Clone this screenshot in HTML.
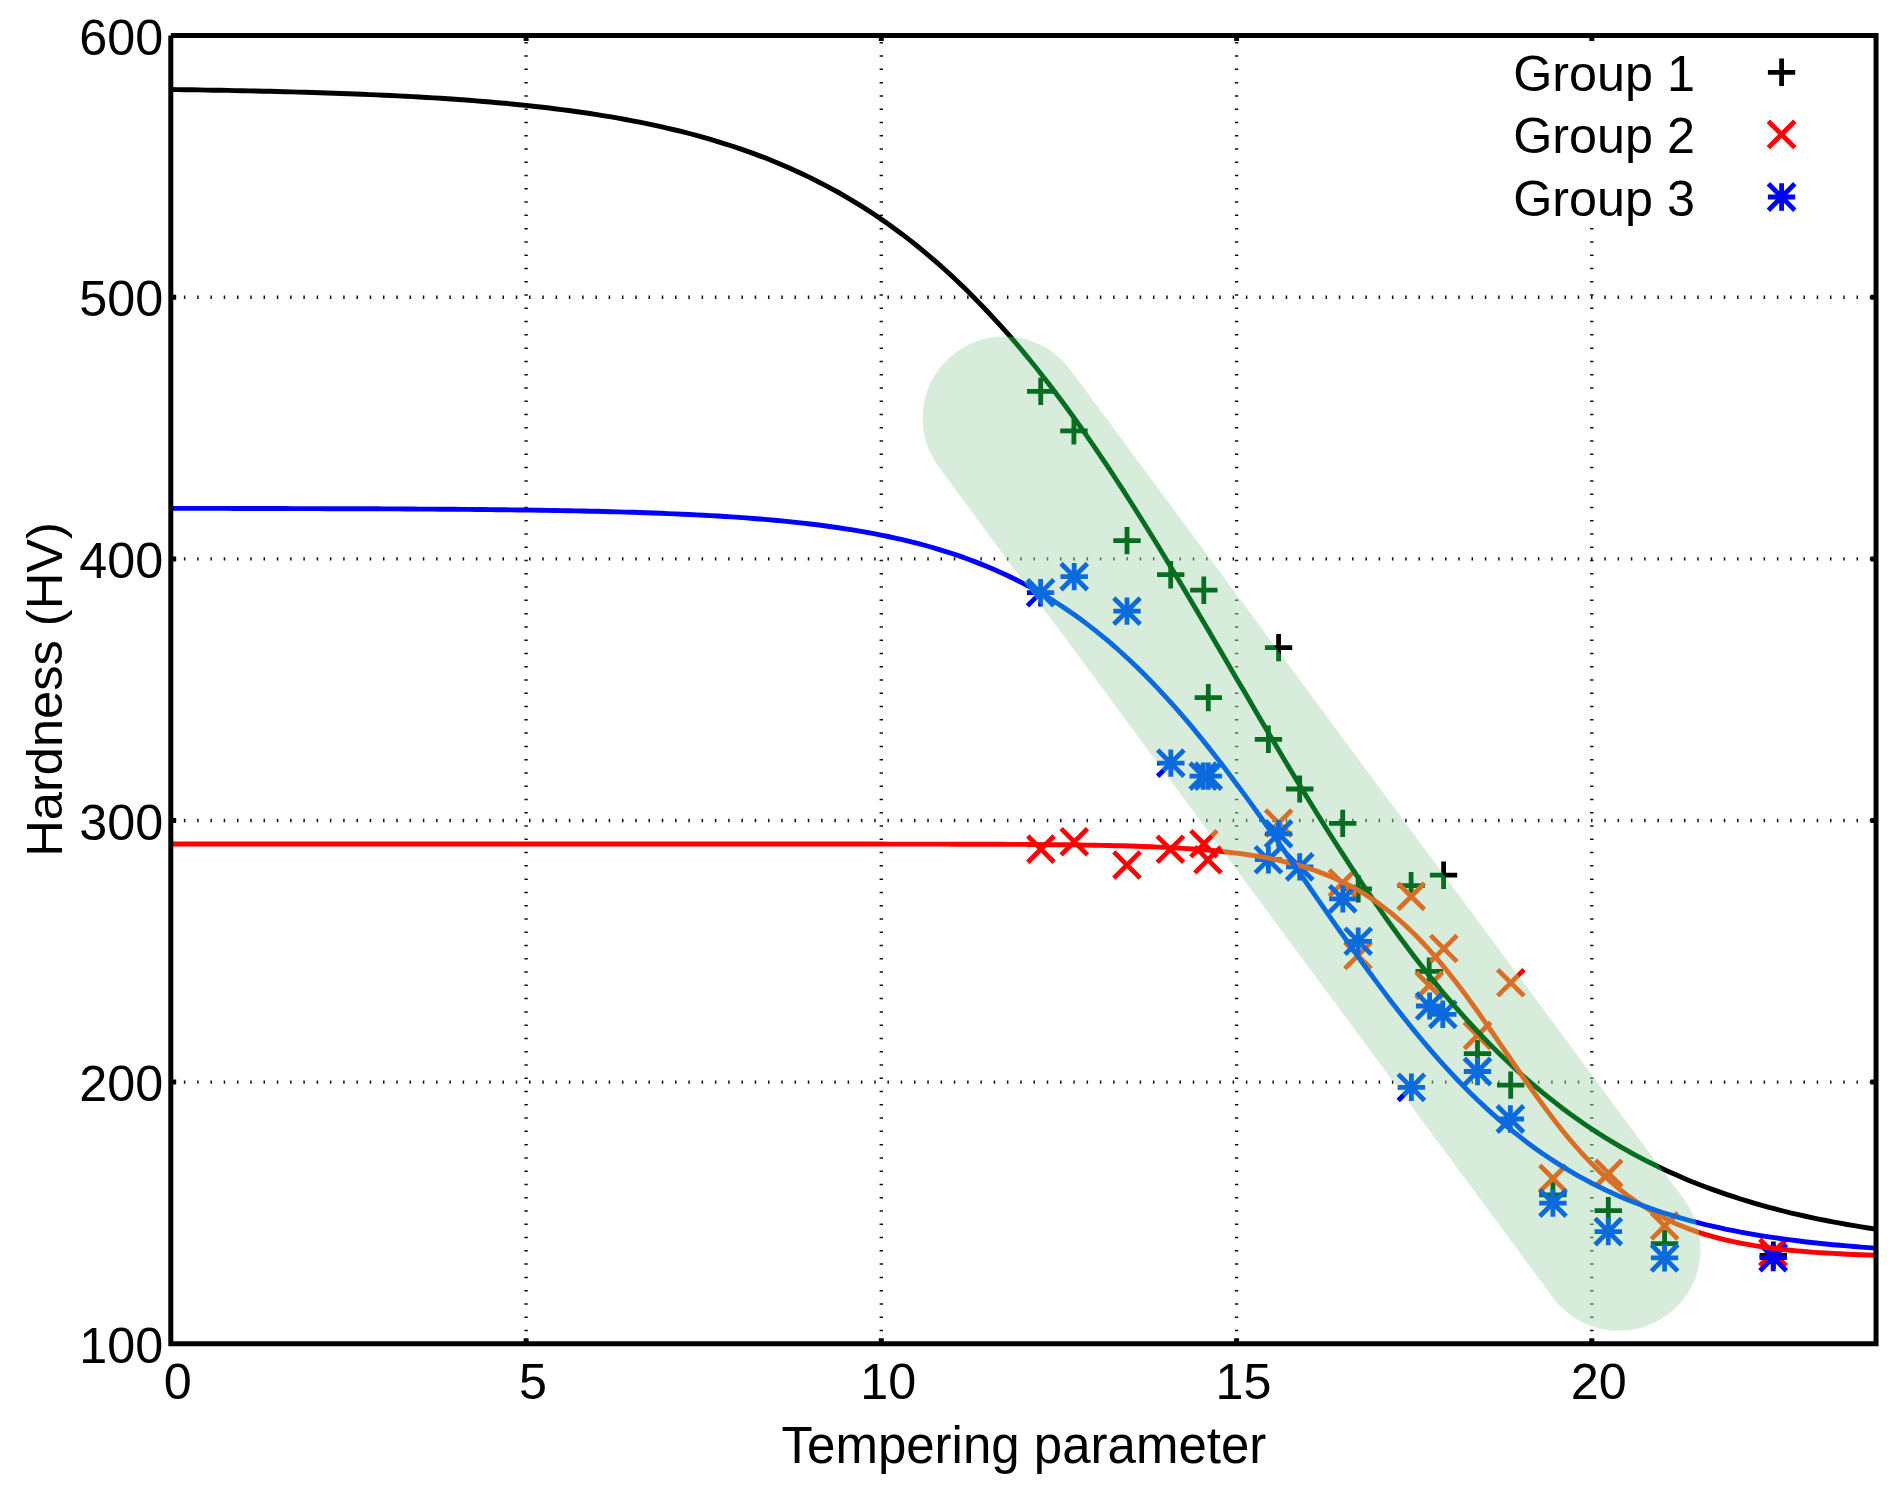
<!DOCTYPE html>
<html><head><meta charset="utf-8"><title>Hardness vs tempering parameter</title>
<style>html,body{margin:0;padding:0;background:#fff}svg{display:block}text{font-family:"Liberation Sans",Arial,Helvetica,sans-serif;font-size:51px;fill:#000}</style>
</head><body>
<svg width="1895" height="1489" viewBox="0 0 1895 1489">
<defs>
<clipPath id="plot"><rect x="170.8" y="35.6" width="1705.25" height="1308.15"/></clipPath>
<mask id="capm" maskUnits="userSpaceOnUse" x="0" y="0" width="1895" height="1489"><rect width="1895" height="1489" fill="#000"/><path d="M1004.4,418.2L1618.8,1249.0" stroke="#fff" stroke-width="163.6" stroke-linecap="round" fill="none"/></mask>
</defs>
<rect width="1895" height="1489" fill="#fff"/>
<g clip-path="url(#plot)">
<g stroke="#111" stroke-width="3.4" fill="none"><path d="M526.1,1343.75V35.6" stroke-dasharray="1.5 11.775" stroke-dashoffset="0.75"/><path d="M881.3,1343.75V35.6" stroke-dasharray="1.5 11.775" stroke-dashoffset="0.75"/><path d="M1236.6,1343.75V35.6" stroke-dasharray="1.5 11.775" stroke-dashoffset="0.75"/><path d="M1591.8,1343.75V35.6" stroke-dasharray="1.5 11.775" stroke-dashoffset="0.75"/><path d="M170.8,1082.1H1876.05" stroke-dasharray="1.5 11.775" stroke-dashoffset="0.2"/><path d="M170.8,820.5H1876.05" stroke-dasharray="1.5 11.775" stroke-dashoffset="0.2"/><path d="M170.8,558.9H1876.05" stroke-dasharray="1.5 11.775" stroke-dashoffset="0.2"/><path d="M170.8,297.2H1876.05" stroke-dasharray="1.5 11.775" stroke-dashoffset="0.2"/></g>
<g fill="none" stroke-width="4.9">
<path stroke="#000" stroke-width="4.8" d="M1027.0,391.3H1054.4M1040.7,377.7V404.9M1060.2,430.9H1087.6M1073.9,417.2V444.5M1113.3,540.6H1140.7M1127.0,527.0V554.2M1157.0,574.7H1184.4M1170.7,561.1V588.4M1190.1,590.2H1217.5M1203.8,576.6V603.9M1264.9,647.6H1292.2M1278.6,634.0V661.2M1194.6,697.6H1222.0M1208.3,684.0V711.2M1254.8,739.3H1282.1M1268.4,725.6V752.9M1286.0,789.0H1313.4M1299.7,775.4V802.6M1329.0,823.4H1356.4M1342.7,809.8V837.0M1344.5,888.8H1371.9M1358.2,875.1V902.4M1397.4,885.6H1424.8M1411.1,872.0V899.2M1429.9,875.2H1457.2M1443.6,861.6V888.9M1415.5,971.3H1442.9M1429.2,957.6V984.9M1463.8,1053.7H1491.2M1477.5,1040.0V1067.4M1497.0,1085.1H1524.4M1510.7,1071.4V1098.8M1539.2,1194.9H1566.6M1552.9,1181.2V1208.6M1594.6,1210.7H1622.0M1608.3,1197.0V1224.4M1650.9,1243.6H1678.2M1664.6,1229.9V1257.2M1759.6,1255.3H1787.0M1773.3,1241.6V1269.0"/>
<path stroke="#f00" stroke-width="4.8" d="M1027.8,836.0L1054.1,862.2M1027.8,862.2L1054.1,836.0M1061.1,828.6L1087.5,854.9M1061.1,854.9L1087.5,828.6M1113.8,851.9L1140.2,878.1M1113.8,878.1L1140.2,851.9M1157.2,836.1L1183.6,862.4M1157.2,862.4L1183.6,836.1M1190.8,830.6L1217.1,856.9M1190.8,856.9L1217.1,830.6M1194.8,846.6L1221.1,872.9M1194.8,872.9L1221.1,846.6M1265.4,809.9L1291.8,836.1M1265.4,836.1L1291.8,809.9M1329.2,869.9L1355.6,896.1M1329.2,896.1L1355.6,869.9M1344.8,942.4L1371.2,968.6M1344.8,968.6L1371.2,942.4M1398.0,883.2L1424.4,909.5M1398.0,909.5L1424.4,883.2M1430.6,935.4L1457.0,961.6M1430.6,961.6L1457.0,935.4M1416.1,972.2L1442.5,998.5M1416.1,998.5L1442.5,972.2M1497.6,969.6L1524.0,995.9M1497.6,995.9L1524.0,969.6M1464.3,1022.3L1490.7,1048.6M1464.3,1048.6L1490.7,1022.3M1539.8,1165.2L1566.1,1191.6M1539.8,1191.6L1566.1,1165.2M1595.5,1160.1L1621.9,1186.5M1595.5,1186.5L1621.9,1160.1M1651.4,1212.8L1677.8,1239.1M1651.4,1239.1L1677.8,1212.8M1759.8,1239.3L1786.2,1265.7M1759.8,1265.7L1786.2,1239.3"/>
<path stroke="#00f" stroke-width="4.8" d="M1026.9,592.7H1054.2M1040.6,579.1V606.4M1027.4,579.6L1053.8,605.9M1027.4,605.9L1053.8,579.6M1060.5,576.6H1087.9M1074.2,563.0V590.2M1061.0,563.5L1087.4,589.8M1061.0,589.8L1087.4,563.5M1113.3,611.1H1140.7M1127.0,597.5V624.8M1113.8,598.0L1140.2,624.2M1113.8,624.2L1140.2,598.0M1157.1,763.1H1184.5M1170.8,749.5V776.8M1157.6,750.0L1184.0,776.2M1157.6,776.2L1184.0,750.0M1189.5,776.1H1216.9M1203.2,762.5V789.8M1190.0,763.0L1216.4,789.2M1190.0,789.2L1216.4,763.0M1194.6,776.1H1222.0M1208.3,762.5V789.8M1195.1,763.0L1221.5,789.2M1195.1,789.2L1221.5,763.0M1264.9,833.9H1292.2M1278.6,820.2V847.5M1265.4,820.8L1291.8,847.0M1265.4,847.0L1291.8,820.8M1254.8,859.7H1282.1M1268.4,846.1V873.4M1255.2,846.6L1281.6,872.9M1255.2,872.9L1281.6,846.6M1286.0,866.9H1313.4M1299.7,853.2V880.5M1286.5,853.8L1312.9,880.0M1286.5,880.0L1312.9,853.8M1329.1,898.9H1356.5M1342.8,885.2V912.5M1329.6,885.8L1356.0,912.0M1329.6,912.0L1356.0,885.8M1344.5,941.3H1371.9M1358.2,927.6V954.9M1345.0,928.1L1371.4,954.4M1345.0,954.4L1371.4,928.1M1415.9,1006.0H1443.2M1429.6,992.4V1019.6M1416.4,992.9L1442.8,1019.1M1416.4,1019.1L1442.8,992.9M1429.1,1014.3H1456.5M1442.8,1000.6V1028.0M1429.6,1001.1L1456.0,1027.5M1429.6,1027.5L1456.0,1001.1M1463.8,1071.5H1491.2M1477.5,1057.8V1085.2M1464.3,1058.3L1490.7,1084.7M1464.3,1084.7L1490.7,1058.3M1397.8,1087.3H1425.1M1411.4,1073.6V1101.0M1398.2,1074.1L1424.6,1100.5M1398.2,1100.5L1424.6,1074.1M1496.8,1119.0H1524.1M1510.4,1105.3V1132.7M1497.2,1105.8L1523.6,1132.2M1497.2,1132.2L1523.6,1105.8M1539.2,1203.1H1566.6M1552.9,1189.4V1216.8M1539.8,1189.9L1566.1,1216.2M1539.8,1216.2L1566.1,1189.9M1594.6,1231.6H1622.0M1608.3,1217.9V1245.2M1595.1,1218.4L1621.5,1244.8M1595.1,1244.8L1621.5,1218.4M1650.9,1257.9H1678.2M1664.6,1244.2V1271.6M1651.4,1244.8L1677.8,1271.1M1651.4,1271.1L1677.8,1244.8M1759.5,1257.6H1786.9M1773.2,1243.9V1271.2M1760.0,1244.4L1786.4,1270.8M1760.0,1270.8L1786.4,1244.4"/>
<path stroke="#000" d="M170.8,89.5 L177.9,89.6 L185.0,89.7 L192.1,89.8 L199.2,89.9 L206.3,90.1 L213.4,90.2 L220.5,90.3 L227.6,90.4 L234.7,90.6 L241.8,90.7 L248.9,90.9 L256.0,91.0 L263.1,91.2 L270.2,91.3 L277.3,91.5 L284.4,91.7 L291.6,91.9 L298.7,92.1 L305.8,92.3 L312.9,92.5 L320.0,92.7 L327.1,93.0 L334.2,93.2 L341.3,93.5 L348.4,93.7 L355.5,94.0 L362.6,94.3 L369.7,94.6 L376.8,94.9 L383.9,95.2 L391.0,95.5 L398.1,95.9 L405.2,96.3 L412.3,96.6 L419.4,97.0 L426.5,97.5 L433.6,97.9 L440.7,98.3 L447.8,98.8 L454.9,99.3 L462.0,99.8 L469.1,100.3 L476.2,100.9 L483.3,101.5 L490.4,102.0 L497.5,102.7 L504.6,103.3 L511.7,104.0 L518.8,104.7 L526.0,105.4 L533.1,106.2 L540.2,107.0 L547.3,107.8 L554.4,108.7 L561.5,109.6 L568.6,110.5 L575.7,111.5 L582.8,112.5 L589.9,113.5 L597.0,114.6 L604.1,115.8 L611.2,116.9 L618.3,118.2 L625.4,119.5 L632.5,120.8 L639.6,122.2 L646.7,123.6 L653.8,125.1 L660.9,126.7 L668.0,128.3 L675.1,130.0 L682.2,131.7 L689.3,133.5 L696.4,135.4 L703.5,137.4 L710.6,139.4 L717.7,141.6 L724.8,143.8 L731.9,146.0 L739.0,148.4 L746.1,150.9 L753.2,153.4 L760.3,156.1 L767.5,158.8 L774.6,161.7 L781.7,164.7 L788.8,167.7 L795.9,170.9 L803.0,174.2 L810.1,177.6 L817.2,181.2 L824.3,184.8 L831.4,188.6 L838.5,192.5 L845.6,196.6 L852.7,200.8 L859.8,205.2 L866.9,209.6 L874.0,214.3 L881.1,219.1 L888.2,224.0 L895.3,229.2 L902.4,234.4 L909.5,239.9 L916.6,245.5 L923.7,251.3 L930.8,257.3 L937.9,263.4 L945.0,269.7 L952.1,276.3 L959.2,283.0 L966.3,289.8 L973.4,296.9 L980.5,304.2 L987.6,311.7 L994.7,319.3 L1001.9,327.2 L1009.0,335.2 L1016.1,343.4 L1023.2,351.9 L1030.3,360.5 L1037.4,369.3 L1044.5,378.4 L1051.6,387.6 L1058.7,397.0 L1065.8,406.5 L1072.9,416.3 L1080.0,426.2 L1087.1,436.4 L1094.2,446.7 L1101.3,457.1 L1108.4,467.7 L1115.5,478.5 L1122.6,489.4 L1129.7,500.5 L1136.8,511.7 L1143.9,523.0 L1151.0,534.5 L1158.1,546.0 L1165.2,557.7 L1172.3,569.5 L1179.4,581.3 L1186.5,593.2 L1193.6,605.2 L1200.7,617.3 L1207.8,629.3 L1214.9,641.5 L1222.0,653.6 L1229.1,665.8 L1236.2,678.0 L1243.4,690.1 L1250.5,702.3 L1257.6,714.4 L1264.7,726.5 L1271.8,738.5 L1278.9,750.5 L1286.0,762.4 L1293.1,774.3 L1300.2,786.0 L1307.3,797.7 L1314.4,809.2 L1321.5,820.7 L1328.6,832.0 L1335.7,843.2 L1342.8,854.2 L1349.9,865.1 L1357.0,875.9 L1364.1,886.5 L1371.2,896.9 L1378.3,907.2 L1385.4,917.3 L1392.5,927.2 L1399.6,937.0 L1406.7,946.5 L1413.8,955.9 L1420.9,965.1 L1428.0,974.1 L1435.1,982.9 L1442.2,991.5 L1449.3,999.9 L1456.4,1008.2 L1463.5,1016.2 L1470.6,1024.0 L1477.8,1031.7 L1484.9,1039.1 L1492.0,1046.4 L1499.1,1053.4 L1506.2,1060.3 L1513.3,1067.0 L1520.4,1073.5 L1527.5,1079.8 L1534.6,1085.9 L1541.7,1091.8 L1548.8,1097.6 L1555.9,1103.2 L1563.0,1108.7 L1570.1,1113.9 L1577.2,1119.0 L1584.3,1124.0 L1591.4,1128.7 L1598.5,1133.4 L1605.6,1137.8 L1612.7,1142.2 L1619.8,1146.4 L1626.9,1150.4 L1634.0,1154.3 L1641.1,1158.1 L1648.2,1161.8 L1655.3,1165.3 L1662.4,1168.7 L1669.5,1172.0 L1676.6,1175.1 L1683.7,1178.2 L1690.8,1181.2 L1697.9,1184.0 L1705.0,1186.7 L1712.2,1189.4 L1719.3,1191.9 L1726.4,1194.4 L1733.5,1196.7 L1740.6,1199.0 L1747.7,1201.2 L1754.8,1203.3 L1761.9,1205.4 L1769.0,1207.3 L1776.1,1209.2 L1783.2,1211.0 L1790.3,1212.8 L1797.4,1214.4 L1804.5,1216.0 L1811.6,1217.6 L1818.7,1219.1 L1825.8,1220.5 L1832.9,1221.9 L1840.0,1223.2 L1847.1,1224.5 L1854.2,1225.7 L1861.3,1226.9 L1868.4,1228.0 L1875.5,1229.1"/>
<path stroke="#f00" d="M170.8,844.0 L177.9,844.0 L185.0,844.0 L192.1,844.0 L199.2,844.0 L206.3,844.0 L213.4,844.0 L220.5,844.0 L227.6,844.0 L234.7,844.0 L241.8,844.0 L248.9,844.0 L256.0,844.0 L263.1,844.0 L270.2,844.0 L277.3,844.0 L284.4,844.0 L291.6,844.0 L298.7,844.0 L305.8,844.0 L312.9,844.0 L320.0,844.0 L327.1,844.0 L334.2,844.0 L341.3,844.0 L348.4,844.0 L355.5,844.0 L362.6,844.0 L369.7,844.0 L376.8,844.0 L383.9,844.0 L391.0,844.0 L398.1,844.0 L405.2,844.0 L412.3,844.0 L419.4,844.0 L426.5,844.0 L433.6,844.0 L440.7,844.0 L447.8,844.0 L454.9,844.0 L462.0,844.0 L469.1,844.0 L476.2,844.0 L483.3,844.0 L490.4,844.0 L497.5,844.0 L504.6,844.0 L511.7,844.0 L518.8,844.0 L526.0,844.0 L533.1,844.0 L540.2,844.0 L547.3,844.0 L554.4,844.0 L561.5,844.0 L568.6,844.0 L575.7,844.0 L582.8,844.0 L589.9,844.0 L597.0,844.0 L604.1,844.0 L611.2,844.0 L618.3,844.0 L625.4,844.0 L632.5,844.0 L639.6,844.0 L646.7,844.0 L653.8,844.0 L660.9,844.0 L668.0,844.0 L675.1,844.0 L682.2,844.0 L689.3,844.0 L696.4,844.0 L703.5,844.0 L710.6,844.0 L717.7,844.0 L724.8,844.0 L731.9,844.0 L739.0,844.0 L746.1,844.0 L753.2,844.0 L760.3,844.0 L767.5,844.0 L774.6,844.0 L781.7,844.0 L788.8,844.0 L795.9,844.0 L803.0,844.0 L810.1,844.0 L817.2,844.0 L824.3,844.0 L831.4,844.0 L838.5,844.0 L845.6,844.0 L852.7,844.0 L859.8,844.0 L866.9,844.0 L874.0,844.0 L881.1,844.0 L888.2,844.1 L895.3,844.1 L902.4,844.1 L909.5,844.1 L916.6,844.1 L923.7,844.1 L930.8,844.1 L937.9,844.1 L945.0,844.1 L952.1,844.2 L959.2,844.2 L966.3,844.2 L973.4,844.2 L980.5,844.2 L987.6,844.3 L994.7,844.3 L1001.9,844.3 L1009.0,844.4 L1016.1,844.4 L1023.2,844.4 L1030.3,844.5 L1037.4,844.5 L1044.5,844.6 L1051.6,844.7 L1058.7,844.7 L1065.8,844.8 L1072.9,844.9 L1080.0,845.0 L1087.1,845.1 L1094.2,845.2 L1101.3,845.4 L1108.4,845.5 L1115.5,845.7 L1122.6,845.8 L1129.7,846.0 L1136.8,846.3 L1143.9,846.5 L1151.0,846.8 L1158.1,847.1 L1165.2,847.4 L1172.3,847.7 L1179.4,848.1 L1186.5,848.6 L1193.6,849.0 L1200.7,849.6 L1207.8,850.1 L1214.9,850.8 L1222.0,851.5 L1229.1,852.2 L1236.2,853.1 L1243.4,854.0 L1250.5,855.1 L1257.6,856.2 L1264.7,857.4 L1271.8,858.8 L1278.9,860.3 L1286.0,862.0 L1293.1,863.8 L1300.2,865.7 L1307.3,867.9 L1314.4,870.3 L1321.5,872.9 L1328.6,875.7 L1335.7,878.7 L1342.8,882.1 L1349.9,885.7 L1357.0,889.6 L1364.1,893.8 L1371.2,898.4 L1378.3,903.3 L1385.4,908.6 L1392.5,914.2 L1399.6,920.3 L1406.7,926.7 L1413.8,933.6 L1420.9,940.8 L1428.0,948.4 L1435.1,956.5 L1442.2,964.9 L1449.3,973.6 L1456.4,982.7 L1463.5,992.1 L1470.6,1001.8 L1477.8,1011.7 L1484.9,1021.8 L1492.0,1032.0 L1499.1,1042.3 L1506.2,1052.7 L1513.3,1063.0 L1520.4,1073.3 L1527.5,1083.5 L1534.6,1093.5 L1541.7,1103.3 L1548.8,1112.9 L1555.9,1122.2 L1563.0,1131.2 L1570.1,1139.8 L1577.2,1148.0 L1584.3,1155.9 L1591.4,1163.4 L1598.5,1170.5 L1605.6,1177.2 L1612.7,1183.5 L1619.8,1189.4 L1626.9,1194.9 L1634.0,1200.0 L1641.1,1204.8 L1648.2,1209.2 L1655.3,1213.3 L1662.4,1217.1 L1669.5,1220.6 L1676.6,1223.9 L1683.7,1226.8 L1690.8,1229.6 L1697.9,1232.1 L1705.0,1234.3 L1712.2,1236.4 L1719.3,1238.3 L1726.4,1240.1 L1733.5,1241.7 L1740.6,1243.1 L1747.7,1244.4 L1754.8,1245.7 L1761.9,1246.7 L1769.0,1247.7 L1776.1,1248.6 L1783.2,1249.5 L1790.3,1250.2 L1797.4,1250.9 L1804.5,1251.5 L1811.6,1252.1 L1818.7,1252.6 L1825.8,1253.0 L1832.9,1253.4 L1840.0,1253.8 L1847.1,1254.2 L1854.2,1254.5 L1861.3,1254.7 L1868.4,1255.0 L1875.5,1255.2"/>
<path stroke="#00f" d="M170.8,508.4 L177.9,508.4 L185.0,508.4 L192.1,508.4 L199.2,508.4 L206.3,508.4 L213.4,508.4 L220.5,508.4 L227.6,508.4 L234.7,508.5 L241.8,508.5 L248.9,508.5 L256.0,508.5 L263.1,508.5 L270.2,508.5 L277.3,508.5 L284.4,508.5 L291.6,508.6 L298.7,508.6 L305.8,508.6 L312.9,508.6 L320.0,508.6 L327.1,508.7 L334.2,508.7 L341.3,508.7 L348.4,508.7 L355.5,508.7 L362.6,508.8 L369.7,508.8 L376.8,508.8 L383.9,508.9 L391.0,508.9 L398.1,508.9 L405.2,509.0 L412.3,509.0 L419.4,509.1 L426.5,509.1 L433.6,509.1 L440.7,509.2 L447.8,509.2 L454.9,509.3 L462.0,509.4 L469.1,509.4 L476.2,509.5 L483.3,509.5 L490.4,509.6 L497.5,509.7 L504.6,509.8 L511.7,509.9 L518.8,510.0 L526.0,510.0 L533.1,510.1 L540.2,510.3 L547.3,510.4 L554.4,510.5 L561.5,510.6 L568.6,510.7 L575.7,510.9 L582.8,511.0 L589.9,511.2 L597.0,511.3 L604.1,511.5 L611.2,511.7 L618.3,511.9 L625.4,512.1 L632.5,512.3 L639.6,512.5 L646.7,512.8 L653.8,513.0 L660.9,513.3 L668.0,513.6 L675.1,513.9 L682.2,514.2 L689.3,514.5 L696.4,514.9 L703.5,515.2 L710.6,515.6 L717.7,516.0 L724.8,516.5 L731.9,516.9 L739.0,517.4 L746.1,517.9 L753.2,518.5 L760.3,519.0 L767.5,519.6 L774.6,520.3 L781.7,520.9 L788.8,521.6 L795.9,522.4 L803.0,523.1 L810.1,524.0 L817.2,524.8 L824.3,525.8 L831.4,526.7 L838.5,527.7 L845.6,528.8 L852.7,529.9 L859.8,531.1 L866.9,532.4 L874.0,533.7 L881.1,535.1 L888.2,536.5 L895.3,538.1 L902.4,539.7 L909.5,541.4 L916.6,543.2 L923.7,545.0 L930.8,547.0 L937.9,549.1 L945.0,551.3 L952.1,553.5 L959.2,555.9 L966.3,558.5 L973.4,561.1 L980.5,563.9 L987.6,566.8 L994.7,569.8 L1001.9,573.0 L1009.0,576.3 L1016.1,579.8 L1023.2,583.4 L1030.3,587.2 L1037.4,591.2 L1044.5,595.3 L1051.6,599.7 L1058.7,604.2 L1065.8,608.9 L1072.9,613.7 L1080.0,618.8 L1087.1,624.1 L1094.2,629.6 L1101.3,635.3 L1108.4,641.2 L1115.5,647.3 L1122.6,653.7 L1129.7,660.2 L1136.8,667.0 L1143.9,674.0 L1151.0,681.2 L1158.1,688.6 L1165.2,696.3 L1172.3,704.1 L1179.4,712.2 L1186.5,720.4 L1193.6,728.9 L1200.7,737.6 L1207.8,746.4 L1214.9,755.4 L1222.0,764.6 L1229.1,774.0 L1236.2,783.5 L1243.4,793.1 L1250.5,802.9 L1257.6,812.8 L1264.7,822.8 L1271.8,832.8 L1278.9,843.0 L1286.0,853.2 L1293.1,863.5 L1300.2,873.7 L1307.3,884.0 L1314.4,894.3 L1321.5,904.6 L1328.6,914.9 L1335.7,925.1 L1342.8,935.2 L1349.9,945.2 L1357.0,955.2 L1364.1,965.1 L1371.2,974.8 L1378.3,984.4 L1385.4,993.9 L1392.5,1003.2 L1399.6,1012.3 L1406.7,1021.3 L1413.8,1030.1 L1420.9,1038.7 L1428.0,1047.1 L1435.1,1055.4 L1442.2,1063.4 L1449.3,1071.2 L1456.4,1078.7 L1463.5,1086.1 L1470.6,1093.3 L1477.8,1100.2 L1484.9,1106.9 L1492.0,1113.4 L1499.1,1119.7 L1506.2,1125.8 L1513.3,1131.6 L1520.4,1137.2 L1527.5,1142.7 L1534.6,1147.9 L1541.7,1153.0 L1548.8,1157.8 L1555.9,1162.4 L1563.0,1166.9 L1570.1,1171.2 L1577.2,1175.3 L1584.3,1179.2 L1591.4,1183.0 L1598.5,1186.5 L1605.6,1190.0 L1612.7,1193.3 L1619.8,1196.4 L1626.9,1199.4 L1634.0,1202.3 L1641.1,1205.0 L1648.2,1207.6 L1655.3,1210.1 L1662.4,1212.5 L1669.5,1214.7 L1676.6,1216.9 L1683.7,1218.9 L1690.8,1220.9 L1697.9,1222.7 L1705.0,1224.5 L1712.2,1226.2 L1719.3,1227.7 L1726.4,1229.3 L1733.5,1230.7 L1740.6,1232.1 L1747.7,1233.4 L1754.8,1234.6 L1761.9,1235.8 L1769.0,1236.9 L1776.1,1237.9 L1783.2,1238.9 L1790.3,1239.9 L1797.4,1240.8 L1804.5,1241.7 L1811.6,1242.5 L1818.7,1243.2 L1825.8,1244.0 L1832.9,1244.7 L1840.0,1245.3 L1847.1,1245.9 L1854.2,1246.5 L1861.3,1247.1 L1868.4,1247.6 L1875.5,1248.1"/>
</g>
</g>
<g mask="url(#capm)">
<rect width="1895" height="1489" fill="#d7ecda"/>
<g clip-path="url(#plot)">
<g stroke="#3b7f4a" stroke-width="3.4" fill="none"><path d="M526.1,1343.75V35.6" stroke-dasharray="1.5 11.775" stroke-dashoffset="0.75"/><path d="M881.3,1343.75V35.6" stroke-dasharray="1.5 11.775" stroke-dashoffset="0.75"/><path d="M1236.6,1343.75V35.6" stroke-dasharray="1.5 11.775" stroke-dashoffset="0.75"/><path d="M1591.8,1343.75V35.6" stroke-dasharray="1.5 11.775" stroke-dashoffset="0.75"/><path d="M170.8,1082.1H1876.05" stroke-dasharray="1.5 11.775" stroke-dashoffset="0.2"/><path d="M170.8,820.5H1876.05" stroke-dasharray="1.5 11.775" stroke-dashoffset="0.2"/><path d="M170.8,558.9H1876.05" stroke-dasharray="1.5 11.775" stroke-dashoffset="0.2"/><path d="M170.8,297.2H1876.05" stroke-dasharray="1.5 11.775" stroke-dashoffset="0.2"/></g>
<g fill="none" stroke-width="4.9">
<path stroke="#076d20" stroke-width="4.8" d="M1027.0,391.3H1054.4M1040.7,377.7V404.9M1060.2,430.9H1087.6M1073.9,417.2V444.5M1113.3,540.6H1140.7M1127.0,527.0V554.2M1157.0,574.7H1184.4M1170.7,561.1V588.4M1190.1,590.2H1217.5M1203.8,576.6V603.9M1264.9,647.6H1292.2M1278.6,634.0V661.2M1194.6,697.6H1222.0M1208.3,684.0V711.2M1254.8,739.3H1282.1M1268.4,725.6V752.9M1286.0,789.0H1313.4M1299.7,775.4V802.6M1329.0,823.4H1356.4M1342.7,809.8V837.0M1344.5,888.8H1371.9M1358.2,875.1V902.4M1397.4,885.6H1424.8M1411.1,872.0V899.2M1429.9,875.2H1457.2M1443.6,861.6V888.9M1415.5,971.3H1442.9M1429.2,957.6V984.9M1463.8,1053.7H1491.2M1477.5,1040.0V1067.4M1497.0,1085.1H1524.4M1510.7,1071.4V1098.8M1539.2,1194.9H1566.6M1552.9,1181.2V1208.6M1594.6,1210.7H1622.0M1608.3,1197.0V1224.4M1650.9,1243.6H1678.2M1664.6,1229.9V1257.2M1759.6,1255.3H1787.0M1773.3,1241.6V1269.0"/>
<path stroke="#d96f27" stroke-width="4.8" d="M1027.8,836.0L1054.1,862.2M1027.8,862.2L1054.1,836.0M1061.1,828.6L1087.5,854.9M1061.1,854.9L1087.5,828.6M1113.8,851.9L1140.2,878.1M1113.8,878.1L1140.2,851.9M1157.2,836.1L1183.6,862.4M1157.2,862.4L1183.6,836.1M1190.8,830.6L1217.1,856.9M1190.8,856.9L1217.1,830.6M1194.8,846.6L1221.1,872.9M1194.8,872.9L1221.1,846.6M1265.4,809.9L1291.8,836.1M1265.4,836.1L1291.8,809.9M1329.2,869.9L1355.6,896.1M1329.2,896.1L1355.6,869.9M1344.8,942.4L1371.2,968.6M1344.8,968.6L1371.2,942.4M1398.0,883.2L1424.4,909.5M1398.0,909.5L1424.4,883.2M1430.6,935.4L1457.0,961.6M1430.6,961.6L1457.0,935.4M1416.1,972.2L1442.5,998.5M1416.1,998.5L1442.5,972.2M1497.6,969.6L1524.0,995.9M1497.6,995.9L1524.0,969.6M1464.3,1022.3L1490.7,1048.6M1464.3,1048.6L1490.7,1022.3M1539.8,1165.2L1566.1,1191.6M1539.8,1191.6L1566.1,1165.2M1595.5,1160.1L1621.9,1186.5M1595.5,1186.5L1621.9,1160.1M1651.4,1212.8L1677.8,1239.1M1651.4,1239.1L1677.8,1212.8M1759.8,1239.3L1786.2,1265.7M1759.8,1265.7L1786.2,1239.3"/>
<path stroke="#0c6bdc" stroke-width="4.8" d="M1026.9,592.7H1054.2M1040.6,579.1V606.4M1027.4,579.6L1053.8,605.9M1027.4,605.9L1053.8,579.6M1060.5,576.6H1087.9M1074.2,563.0V590.2M1061.0,563.5L1087.4,589.8M1061.0,589.8L1087.4,563.5M1113.3,611.1H1140.7M1127.0,597.5V624.8M1113.8,598.0L1140.2,624.2M1113.8,624.2L1140.2,598.0M1157.1,763.1H1184.5M1170.8,749.5V776.8M1157.6,750.0L1184.0,776.2M1157.6,776.2L1184.0,750.0M1189.5,776.1H1216.9M1203.2,762.5V789.8M1190.0,763.0L1216.4,789.2M1190.0,789.2L1216.4,763.0M1194.6,776.1H1222.0M1208.3,762.5V789.8M1195.1,763.0L1221.5,789.2M1195.1,789.2L1221.5,763.0M1264.9,833.9H1292.2M1278.6,820.2V847.5M1265.4,820.8L1291.8,847.0M1265.4,847.0L1291.8,820.8M1254.8,859.7H1282.1M1268.4,846.1V873.4M1255.2,846.6L1281.6,872.9M1255.2,872.9L1281.6,846.6M1286.0,866.9H1313.4M1299.7,853.2V880.5M1286.5,853.8L1312.9,880.0M1286.5,880.0L1312.9,853.8M1329.1,898.9H1356.5M1342.8,885.2V912.5M1329.6,885.8L1356.0,912.0M1329.6,912.0L1356.0,885.8M1344.5,941.3H1371.9M1358.2,927.6V954.9M1345.0,928.1L1371.4,954.4M1345.0,954.4L1371.4,928.1M1415.9,1006.0H1443.2M1429.6,992.4V1019.6M1416.4,992.9L1442.8,1019.1M1416.4,1019.1L1442.8,992.9M1429.1,1014.3H1456.5M1442.8,1000.6V1028.0M1429.6,1001.1L1456.0,1027.5M1429.6,1027.5L1456.0,1001.1M1463.8,1071.5H1491.2M1477.5,1057.8V1085.2M1464.3,1058.3L1490.7,1084.7M1464.3,1084.7L1490.7,1058.3M1397.8,1087.3H1425.1M1411.4,1073.6V1101.0M1398.2,1074.1L1424.6,1100.5M1398.2,1100.5L1424.6,1074.1M1496.8,1119.0H1524.1M1510.4,1105.3V1132.7M1497.2,1105.8L1523.6,1132.2M1497.2,1132.2L1523.6,1105.8M1539.2,1203.1H1566.6M1552.9,1189.4V1216.8M1539.8,1189.9L1566.1,1216.2M1539.8,1216.2L1566.1,1189.9M1594.6,1231.6H1622.0M1608.3,1217.9V1245.2M1595.1,1218.4L1621.5,1244.8M1595.1,1244.8L1621.5,1218.4M1650.9,1257.9H1678.2M1664.6,1244.2V1271.6M1651.4,1244.8L1677.8,1271.1M1651.4,1271.1L1677.8,1244.8M1759.5,1257.6H1786.9M1773.2,1243.9V1271.2M1760.0,1244.4L1786.4,1270.8M1760.0,1270.8L1786.4,1244.4"/>
<path stroke="#076d20" d="M170.8,89.5 L177.9,89.6 L185.0,89.7 L192.1,89.8 L199.2,89.9 L206.3,90.1 L213.4,90.2 L220.5,90.3 L227.6,90.4 L234.7,90.6 L241.8,90.7 L248.9,90.9 L256.0,91.0 L263.1,91.2 L270.2,91.3 L277.3,91.5 L284.4,91.7 L291.6,91.9 L298.7,92.1 L305.8,92.3 L312.9,92.5 L320.0,92.7 L327.1,93.0 L334.2,93.2 L341.3,93.5 L348.4,93.7 L355.5,94.0 L362.6,94.3 L369.7,94.6 L376.8,94.9 L383.9,95.2 L391.0,95.5 L398.1,95.9 L405.2,96.3 L412.3,96.6 L419.4,97.0 L426.5,97.5 L433.6,97.9 L440.7,98.3 L447.8,98.8 L454.9,99.3 L462.0,99.8 L469.1,100.3 L476.2,100.9 L483.3,101.5 L490.4,102.0 L497.5,102.7 L504.6,103.3 L511.7,104.0 L518.8,104.7 L526.0,105.4 L533.1,106.2 L540.2,107.0 L547.3,107.8 L554.4,108.7 L561.5,109.6 L568.6,110.5 L575.7,111.5 L582.8,112.5 L589.9,113.5 L597.0,114.6 L604.1,115.8 L611.2,116.9 L618.3,118.2 L625.4,119.5 L632.5,120.8 L639.6,122.2 L646.7,123.6 L653.8,125.1 L660.9,126.7 L668.0,128.3 L675.1,130.0 L682.2,131.7 L689.3,133.5 L696.4,135.4 L703.5,137.4 L710.6,139.4 L717.7,141.6 L724.8,143.8 L731.9,146.0 L739.0,148.4 L746.1,150.9 L753.2,153.4 L760.3,156.1 L767.5,158.8 L774.6,161.7 L781.7,164.7 L788.8,167.7 L795.9,170.9 L803.0,174.2 L810.1,177.6 L817.2,181.2 L824.3,184.8 L831.4,188.6 L838.5,192.5 L845.6,196.6 L852.7,200.8 L859.8,205.2 L866.9,209.6 L874.0,214.3 L881.1,219.1 L888.2,224.0 L895.3,229.2 L902.4,234.4 L909.5,239.9 L916.6,245.5 L923.7,251.3 L930.8,257.3 L937.9,263.4 L945.0,269.7 L952.1,276.3 L959.2,283.0 L966.3,289.8 L973.4,296.9 L980.5,304.2 L987.6,311.7 L994.7,319.3 L1001.9,327.2 L1009.0,335.2 L1016.1,343.4 L1023.2,351.9 L1030.3,360.5 L1037.4,369.3 L1044.5,378.4 L1051.6,387.6 L1058.7,397.0 L1065.8,406.5 L1072.9,416.3 L1080.0,426.2 L1087.1,436.4 L1094.2,446.7 L1101.3,457.1 L1108.4,467.7 L1115.5,478.5 L1122.6,489.4 L1129.7,500.5 L1136.8,511.7 L1143.9,523.0 L1151.0,534.5 L1158.1,546.0 L1165.2,557.7 L1172.3,569.5 L1179.4,581.3 L1186.5,593.2 L1193.6,605.2 L1200.7,617.3 L1207.8,629.3 L1214.9,641.5 L1222.0,653.6 L1229.1,665.8 L1236.2,678.0 L1243.4,690.1 L1250.5,702.3 L1257.6,714.4 L1264.7,726.5 L1271.8,738.5 L1278.9,750.5 L1286.0,762.4 L1293.1,774.3 L1300.2,786.0 L1307.3,797.7 L1314.4,809.2 L1321.5,820.7 L1328.6,832.0 L1335.7,843.2 L1342.8,854.2 L1349.9,865.1 L1357.0,875.9 L1364.1,886.5 L1371.2,896.9 L1378.3,907.2 L1385.4,917.3 L1392.5,927.2 L1399.6,937.0 L1406.7,946.5 L1413.8,955.9 L1420.9,965.1 L1428.0,974.1 L1435.1,982.9 L1442.2,991.5 L1449.3,999.9 L1456.4,1008.2 L1463.5,1016.2 L1470.6,1024.0 L1477.8,1031.7 L1484.9,1039.1 L1492.0,1046.4 L1499.1,1053.4 L1506.2,1060.3 L1513.3,1067.0 L1520.4,1073.5 L1527.5,1079.8 L1534.6,1085.9 L1541.7,1091.8 L1548.8,1097.6 L1555.9,1103.2 L1563.0,1108.7 L1570.1,1113.9 L1577.2,1119.0 L1584.3,1124.0 L1591.4,1128.7 L1598.5,1133.4 L1605.6,1137.8 L1612.7,1142.2 L1619.8,1146.4 L1626.9,1150.4 L1634.0,1154.3 L1641.1,1158.1 L1648.2,1161.8 L1655.3,1165.3 L1662.4,1168.7 L1669.5,1172.0 L1676.6,1175.1 L1683.7,1178.2 L1690.8,1181.2 L1697.9,1184.0 L1705.0,1186.7 L1712.2,1189.4 L1719.3,1191.9 L1726.4,1194.4 L1733.5,1196.7 L1740.6,1199.0 L1747.7,1201.2 L1754.8,1203.3 L1761.9,1205.4 L1769.0,1207.3 L1776.1,1209.2 L1783.2,1211.0 L1790.3,1212.8 L1797.4,1214.4 L1804.5,1216.0 L1811.6,1217.6 L1818.7,1219.1 L1825.8,1220.5 L1832.9,1221.9 L1840.0,1223.2 L1847.1,1224.5 L1854.2,1225.7 L1861.3,1226.9 L1868.4,1228.0 L1875.5,1229.1"/>
<path stroke="#d96f27" d="M170.8,844.0 L177.9,844.0 L185.0,844.0 L192.1,844.0 L199.2,844.0 L206.3,844.0 L213.4,844.0 L220.5,844.0 L227.6,844.0 L234.7,844.0 L241.8,844.0 L248.9,844.0 L256.0,844.0 L263.1,844.0 L270.2,844.0 L277.3,844.0 L284.4,844.0 L291.6,844.0 L298.7,844.0 L305.8,844.0 L312.9,844.0 L320.0,844.0 L327.1,844.0 L334.2,844.0 L341.3,844.0 L348.4,844.0 L355.5,844.0 L362.6,844.0 L369.7,844.0 L376.8,844.0 L383.9,844.0 L391.0,844.0 L398.1,844.0 L405.2,844.0 L412.3,844.0 L419.4,844.0 L426.5,844.0 L433.6,844.0 L440.7,844.0 L447.8,844.0 L454.9,844.0 L462.0,844.0 L469.1,844.0 L476.2,844.0 L483.3,844.0 L490.4,844.0 L497.5,844.0 L504.6,844.0 L511.7,844.0 L518.8,844.0 L526.0,844.0 L533.1,844.0 L540.2,844.0 L547.3,844.0 L554.4,844.0 L561.5,844.0 L568.6,844.0 L575.7,844.0 L582.8,844.0 L589.9,844.0 L597.0,844.0 L604.1,844.0 L611.2,844.0 L618.3,844.0 L625.4,844.0 L632.5,844.0 L639.6,844.0 L646.7,844.0 L653.8,844.0 L660.9,844.0 L668.0,844.0 L675.1,844.0 L682.2,844.0 L689.3,844.0 L696.4,844.0 L703.5,844.0 L710.6,844.0 L717.7,844.0 L724.8,844.0 L731.9,844.0 L739.0,844.0 L746.1,844.0 L753.2,844.0 L760.3,844.0 L767.5,844.0 L774.6,844.0 L781.7,844.0 L788.8,844.0 L795.9,844.0 L803.0,844.0 L810.1,844.0 L817.2,844.0 L824.3,844.0 L831.4,844.0 L838.5,844.0 L845.6,844.0 L852.7,844.0 L859.8,844.0 L866.9,844.0 L874.0,844.0 L881.1,844.0 L888.2,844.1 L895.3,844.1 L902.4,844.1 L909.5,844.1 L916.6,844.1 L923.7,844.1 L930.8,844.1 L937.9,844.1 L945.0,844.1 L952.1,844.2 L959.2,844.2 L966.3,844.2 L973.4,844.2 L980.5,844.2 L987.6,844.3 L994.7,844.3 L1001.9,844.3 L1009.0,844.4 L1016.1,844.4 L1023.2,844.4 L1030.3,844.5 L1037.4,844.5 L1044.5,844.6 L1051.6,844.7 L1058.7,844.7 L1065.8,844.8 L1072.9,844.9 L1080.0,845.0 L1087.1,845.1 L1094.2,845.2 L1101.3,845.4 L1108.4,845.5 L1115.5,845.7 L1122.6,845.8 L1129.7,846.0 L1136.8,846.3 L1143.9,846.5 L1151.0,846.8 L1158.1,847.1 L1165.2,847.4 L1172.3,847.7 L1179.4,848.1 L1186.5,848.6 L1193.6,849.0 L1200.7,849.6 L1207.8,850.1 L1214.9,850.8 L1222.0,851.5 L1229.1,852.2 L1236.2,853.1 L1243.4,854.0 L1250.5,855.1 L1257.6,856.2 L1264.7,857.4 L1271.8,858.8 L1278.9,860.3 L1286.0,862.0 L1293.1,863.8 L1300.2,865.7 L1307.3,867.9 L1314.4,870.3 L1321.5,872.9 L1328.6,875.7 L1335.7,878.7 L1342.8,882.1 L1349.9,885.7 L1357.0,889.6 L1364.1,893.8 L1371.2,898.4 L1378.3,903.3 L1385.4,908.6 L1392.5,914.2 L1399.6,920.3 L1406.7,926.7 L1413.8,933.6 L1420.9,940.8 L1428.0,948.4 L1435.1,956.5 L1442.2,964.9 L1449.3,973.6 L1456.4,982.7 L1463.5,992.1 L1470.6,1001.8 L1477.8,1011.7 L1484.9,1021.8 L1492.0,1032.0 L1499.1,1042.3 L1506.2,1052.7 L1513.3,1063.0 L1520.4,1073.3 L1527.5,1083.5 L1534.6,1093.5 L1541.7,1103.3 L1548.8,1112.9 L1555.9,1122.2 L1563.0,1131.2 L1570.1,1139.8 L1577.2,1148.0 L1584.3,1155.9 L1591.4,1163.4 L1598.5,1170.5 L1605.6,1177.2 L1612.7,1183.5 L1619.8,1189.4 L1626.9,1194.9 L1634.0,1200.0 L1641.1,1204.8 L1648.2,1209.2 L1655.3,1213.3 L1662.4,1217.1 L1669.5,1220.6 L1676.6,1223.9 L1683.7,1226.8 L1690.8,1229.6 L1697.9,1232.1 L1705.0,1234.3 L1712.2,1236.4 L1719.3,1238.3 L1726.4,1240.1 L1733.5,1241.7 L1740.6,1243.1 L1747.7,1244.4 L1754.8,1245.7 L1761.9,1246.7 L1769.0,1247.7 L1776.1,1248.6 L1783.2,1249.5 L1790.3,1250.2 L1797.4,1250.9 L1804.5,1251.5 L1811.6,1252.1 L1818.7,1252.6 L1825.8,1253.0 L1832.9,1253.4 L1840.0,1253.8 L1847.1,1254.2 L1854.2,1254.5 L1861.3,1254.7 L1868.4,1255.0 L1875.5,1255.2"/>
<path stroke="#0c6bdc" d="M170.8,508.4 L177.9,508.4 L185.0,508.4 L192.1,508.4 L199.2,508.4 L206.3,508.4 L213.4,508.4 L220.5,508.4 L227.6,508.4 L234.7,508.5 L241.8,508.5 L248.9,508.5 L256.0,508.5 L263.1,508.5 L270.2,508.5 L277.3,508.5 L284.4,508.5 L291.6,508.6 L298.7,508.6 L305.8,508.6 L312.9,508.6 L320.0,508.6 L327.1,508.7 L334.2,508.7 L341.3,508.7 L348.4,508.7 L355.5,508.7 L362.6,508.8 L369.7,508.8 L376.8,508.8 L383.9,508.9 L391.0,508.9 L398.1,508.9 L405.2,509.0 L412.3,509.0 L419.4,509.1 L426.5,509.1 L433.6,509.1 L440.7,509.2 L447.8,509.2 L454.9,509.3 L462.0,509.4 L469.1,509.4 L476.2,509.5 L483.3,509.5 L490.4,509.6 L497.5,509.7 L504.6,509.8 L511.7,509.9 L518.8,510.0 L526.0,510.0 L533.1,510.1 L540.2,510.3 L547.3,510.4 L554.4,510.5 L561.5,510.6 L568.6,510.7 L575.7,510.9 L582.8,511.0 L589.9,511.2 L597.0,511.3 L604.1,511.5 L611.2,511.7 L618.3,511.9 L625.4,512.1 L632.5,512.3 L639.6,512.5 L646.7,512.8 L653.8,513.0 L660.9,513.3 L668.0,513.6 L675.1,513.9 L682.2,514.2 L689.3,514.5 L696.4,514.9 L703.5,515.2 L710.6,515.6 L717.7,516.0 L724.8,516.5 L731.9,516.9 L739.0,517.4 L746.1,517.9 L753.2,518.5 L760.3,519.0 L767.5,519.6 L774.6,520.3 L781.7,520.9 L788.8,521.6 L795.9,522.4 L803.0,523.1 L810.1,524.0 L817.2,524.8 L824.3,525.8 L831.4,526.7 L838.5,527.7 L845.6,528.8 L852.7,529.9 L859.8,531.1 L866.9,532.4 L874.0,533.7 L881.1,535.1 L888.2,536.5 L895.3,538.1 L902.4,539.7 L909.5,541.4 L916.6,543.2 L923.7,545.0 L930.8,547.0 L937.9,549.1 L945.0,551.3 L952.1,553.5 L959.2,555.9 L966.3,558.5 L973.4,561.1 L980.5,563.9 L987.6,566.8 L994.7,569.8 L1001.9,573.0 L1009.0,576.3 L1016.1,579.8 L1023.2,583.4 L1030.3,587.2 L1037.4,591.2 L1044.5,595.3 L1051.6,599.7 L1058.7,604.2 L1065.8,608.9 L1072.9,613.7 L1080.0,618.8 L1087.1,624.1 L1094.2,629.6 L1101.3,635.3 L1108.4,641.2 L1115.5,647.3 L1122.6,653.7 L1129.7,660.2 L1136.8,667.0 L1143.9,674.0 L1151.0,681.2 L1158.1,688.6 L1165.2,696.3 L1172.3,704.1 L1179.4,712.2 L1186.5,720.4 L1193.6,728.9 L1200.7,737.6 L1207.8,746.4 L1214.9,755.4 L1222.0,764.6 L1229.1,774.0 L1236.2,783.5 L1243.4,793.1 L1250.5,802.9 L1257.6,812.8 L1264.7,822.8 L1271.8,832.8 L1278.9,843.0 L1286.0,853.2 L1293.1,863.5 L1300.2,873.7 L1307.3,884.0 L1314.4,894.3 L1321.5,904.6 L1328.6,914.9 L1335.7,925.1 L1342.8,935.2 L1349.9,945.2 L1357.0,955.2 L1364.1,965.1 L1371.2,974.8 L1378.3,984.4 L1385.4,993.9 L1392.5,1003.2 L1399.6,1012.3 L1406.7,1021.3 L1413.8,1030.1 L1420.9,1038.7 L1428.0,1047.1 L1435.1,1055.4 L1442.2,1063.4 L1449.3,1071.2 L1456.4,1078.7 L1463.5,1086.1 L1470.6,1093.3 L1477.8,1100.2 L1484.9,1106.9 L1492.0,1113.4 L1499.1,1119.7 L1506.2,1125.8 L1513.3,1131.6 L1520.4,1137.2 L1527.5,1142.7 L1534.6,1147.9 L1541.7,1153.0 L1548.8,1157.8 L1555.9,1162.4 L1563.0,1166.9 L1570.1,1171.2 L1577.2,1175.3 L1584.3,1179.2 L1591.4,1183.0 L1598.5,1186.5 L1605.6,1190.0 L1612.7,1193.3 L1619.8,1196.4 L1626.9,1199.4 L1634.0,1202.3 L1641.1,1205.0 L1648.2,1207.6 L1655.3,1210.1 L1662.4,1212.5 L1669.5,1214.7 L1676.6,1216.9 L1683.7,1218.9 L1690.8,1220.9 L1697.9,1222.7 L1705.0,1224.5 L1712.2,1226.2 L1719.3,1227.7 L1726.4,1229.3 L1733.5,1230.7 L1740.6,1232.1 L1747.7,1233.4 L1754.8,1234.6 L1761.9,1235.8 L1769.0,1236.9 L1776.1,1237.9 L1783.2,1238.9 L1790.3,1239.9 L1797.4,1240.8 L1804.5,1241.7 L1811.6,1242.5 L1818.7,1243.2 L1825.8,1244.0 L1832.9,1244.7 L1840.0,1245.3 L1847.1,1245.9 L1854.2,1246.5 L1861.3,1247.1 L1868.4,1247.6 L1875.5,1248.1"/>
</g>
</g>
</g>
<rect x="1500" y="42" width="330" height="185" fill="#fff"/>
<g><text x="1695.0" y="91.3" text-anchor="end" style="font-size:50.3px">Group 1</text><text x="1695.0" y="153.4" text-anchor="end" style="font-size:50.3px">Group 2</text><text x="1695.0" y="216.0" text-anchor="end" style="font-size:50.3px">Group 3</text></g>
<g fill="none" stroke-width="4.8">
<path stroke="#000" d="M1767.9,72.3H1795.2M1781.6,58.6V86.0"/>
<path stroke="#f00" d="M1768.4,121.2L1794.8,147.6M1768.4,147.6L1794.8,121.2"/>
<path stroke="#00f" d="M1767.9,197.0H1795.2M1781.6,183.3V210.7M1768.4,183.8L1794.8,210.2M1768.4,210.2L1794.8,183.8"/>
</g>
<path d="M526.1,1343.75v-5.4M526.1,35.6v5.4M881.3,1343.75v-5.4M881.3,35.6v5.4M1236.6,1343.75v-5.4M1236.6,35.6v5.4M1591.8,1343.75v-5.4M1591.8,35.6v5.4M170.8,1082.1h5.4M1876.05,1082.1h-5.4M170.8,820.5h5.4M1876.05,820.5h-5.4M170.8,558.9h5.4M1876.05,558.9h-5.4M170.8,297.2h5.4M1876.05,297.2h-5.4" stroke="#000" stroke-width="5" fill="none"/>
<path d="M170.8,35.6H1876.05V1343.75H170.8V35.6" fill="none" stroke="#000" stroke-width="5" stroke-linejoin="miter"/>
<g><text x="163.2" y="1363.0" text-anchor="end" style="font-size:50.3px">100</text><text x="163.2" y="1101.3" text-anchor="end" style="font-size:50.3px">200</text><text x="163.2" y="839.7" text-anchor="end" style="font-size:50.3px">300</text><text x="163.2" y="578.1" text-anchor="end" style="font-size:50.3px">400</text><text x="163.2" y="316.4" text-anchor="end" style="font-size:50.3px">500</text><text x="163.2" y="54.8" text-anchor="end" style="font-size:50.3px">600</text><text x="177.8" y="1398.7" text-anchor="middle" style="font-size:50.3px">0</text><text x="533.1" y="1398.7" text-anchor="middle" style="font-size:50.3px">5</text><text x="888.3" y="1398.7" text-anchor="middle" style="font-size:50.3px">10</text><text x="1243.6" y="1398.7" text-anchor="middle" style="font-size:50.3px">15</text><text x="1598.8" y="1398.7" text-anchor="middle" style="font-size:50.3px">20</text><text x="1023.9" y="1462.6" text-anchor="middle">Tempering parameter</text><text transform="translate(62,689.5) rotate(-90)" text-anchor="middle" style="font-size:50.6px">Hardness (HV)</text></g>
</svg>
</body></html>
